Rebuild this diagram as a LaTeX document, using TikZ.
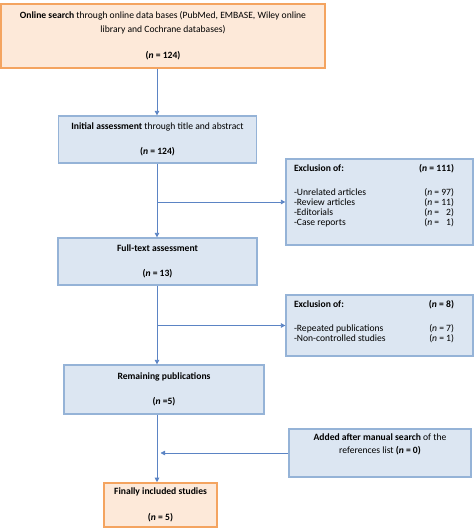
\documentclass[tikz,border=0pt]{standalone}
\usepackage{fontspec}
\setmainfont{Carlito}
\usepackage{array}
\usepackage{tikz}
\usetikzlibrary{arrows.meta}
\definecolor{srcfill}{HTML}{FDE9D9}
\definecolor{srcline}{HTML}{F4A460}
\definecolor{stepfill}{HTML}{DCE6F2}
\definecolor{stepline}{HTML}{95B3D7}
\definecolor{flowline}{HTML}{5B84C4}
\newcommand{\ncount}[1]{(\textit{n} = #1)}
\newcommand{\exclrow}[2]{\makebox[124pt][l]{#1}\makebox[36pt][r]{#2}\hspace{11pt}}
\tikzset{
  srcbox/.style={draw=srcline, fill=srcfill, line width=1.6pt, align=center, font=\fontsize{9.6}{13.8}\selectfont},
  stepbox/.style={draw=stepline, fill=stepfill, line width=1.3pt, align=center, font=\fontsize{9.6}{13.8}\selectfont},
  sidebox/.style={draw=stepline, fill=stepfill, line width=1.3pt, inner xsep=8pt, inner ysep=0pt, font=\fontsize{9.6}{9.8}\selectfont},
  flow/.style={draw=flowline, line width=0.8pt, -{Triangle[length=4.5pt,width=4.5pt]}}
}

\begin{document}
\begin{tikzpicture}[x=1pt,y=-1pt]
\useasboundingbox (0,0) rectangle (474,528);
\coordinate(trunk) at (157,0);
\coordinate(merge) at (160.5,453);
%
\node[srcbox, minimum width=324pt, minimum height=64pt](search) at (163,36) {\textbf{Online search} through online data bases (PubMed, EMBASE, Wiley online\\library and Cochrane databases)\\[12pt]\textbf{\ncount{124}}};
\node[stepbox, minimum width=198pt, minimum height=47pt](init) at (157.5,139.5) {\textbf{Initial assessment} through title and abstract\\[11pt]\textbf{\ncount{124}}};
\node[sidebox, minimum width=187pt, text height=12pt, text depth=74pt](excl1) at (379.5,202) {\begin{tabular}[t]{@{}l@{}}
\exclrow{\textbf{Exclusion of:}}{\textbf{\ncount{111}}}\\[14.2pt]
\exclrow{-Unrelated articles}{\ncount{97}}\\
\exclrow{-Review articles}{\ncount{11}}\\
\exclrow{-Editorials}{\ncount{\phantom{0}2}}\\
\exclrow{-Case reports}{\ncount{\phantom{0}1}}
\end{tabular}};
\node[stepbox, minimum width=199pt, minimum height=47pt](full) at (157.5,261.5) {\textbf{Full-text assessment}\\[11pt]\textbf{\ncount{13}}};
\node[sidebox, minimum width=187pt, text height=12pt, text depth=49pt](excl2) at (379.5,325.5) {\begin{tabular}[t]{@{}l@{}}
\exclrow{\textbf{Exclusion of:}}{\textbf{\ncount{8}}}\\[14.2pt]
\exclrow{-Repeated publications}{\ncount{7}}\\
\exclrow{-Non-controlled studies}{\ncount{1}}
\end{tabular}};
\node[stepbox, minimum width=200pt, minimum height=49pt](remain) at (164,389.5) {\textbf{Remaining publications}\\[11pt]\textbf{(\textit{n} =5)}};
\node[sidebox, font=\fontsize{9.6}{13.8}\selectfont, minimum width=182pt, text height=11pt, text depth=37pt](manual) at (380,453) {\begin{tabular}[t]{@{}c@{}}
\textbf{Added after manual search} of the\\
references list \textbf{\ncount{0}}
\end{tabular}};
\node[srcbox, minimum width=113pt, minimum height=44pt](final) at (160.5,505) {\textbf{Finally included studies}\\[12pt]\textbf{\ncount{5}}};
%
\draw[flow](search.south -| trunk) -- (init.north -| trunk);
\draw[flow](init.south -| trunk) -- (full.north -| trunk);
\draw[flow](excl1.west -| trunk) -- (excl1.west);
\draw[flow](full.south -| trunk) -- (remain.north -| trunk);
\draw[flow](excl2.west -| trunk) -- (excl2.west);
\draw[flow](remain.south -| trunk) -- (final.north -| trunk);
\draw[flow](manual.west) -- (merge);
\end{tikzpicture}
\end{document}
